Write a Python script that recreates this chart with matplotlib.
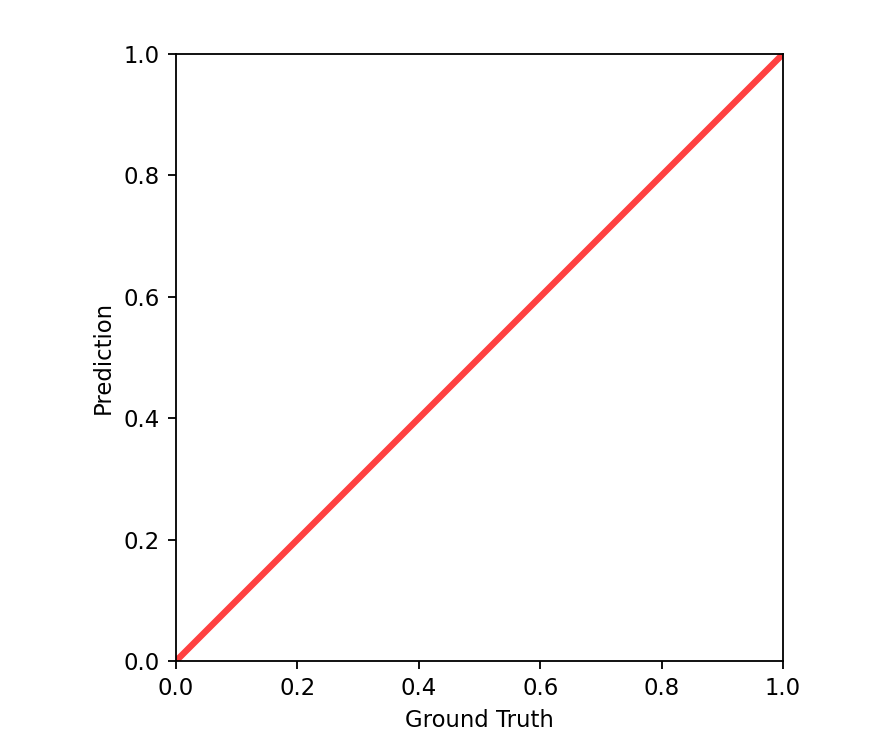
import numpy as np
import matplotlib
matplotlib.use("Agg")
import matplotlib.pyplot as plt

# identity line endpoints (ground truth vs prediction)
ground_truth = [0.0, 1.0]
prediction = [0.0, 1.0]
ticks = [0.0, 0.2, 0.4, 0.6, 0.8, 1.0]


def main():
    dpi = 164
    fig = plt.figure(figsize=(878 / dpi, 746 / dpi), dpi=dpi)
    ax = fig.add_axes([176 / 878, 85 / 746, 607 / 878, 607 / 746])
    ax.plot(ground_truth, prediction, color='red', alpha=0.75, linewidth=2.8)
    ax.set_xlim(0, 1)
    ax.set_ylim(0, 1)
    ax.set_xticks(ticks)
    ax.set_yticks(ticks)
    ax.set_xlabel('Ground Truth')
    ax.set_ylabel('Prediction')
    fig.savefig('out.png', dpi=dpi)


if __name__ == "__main__":
    main()
